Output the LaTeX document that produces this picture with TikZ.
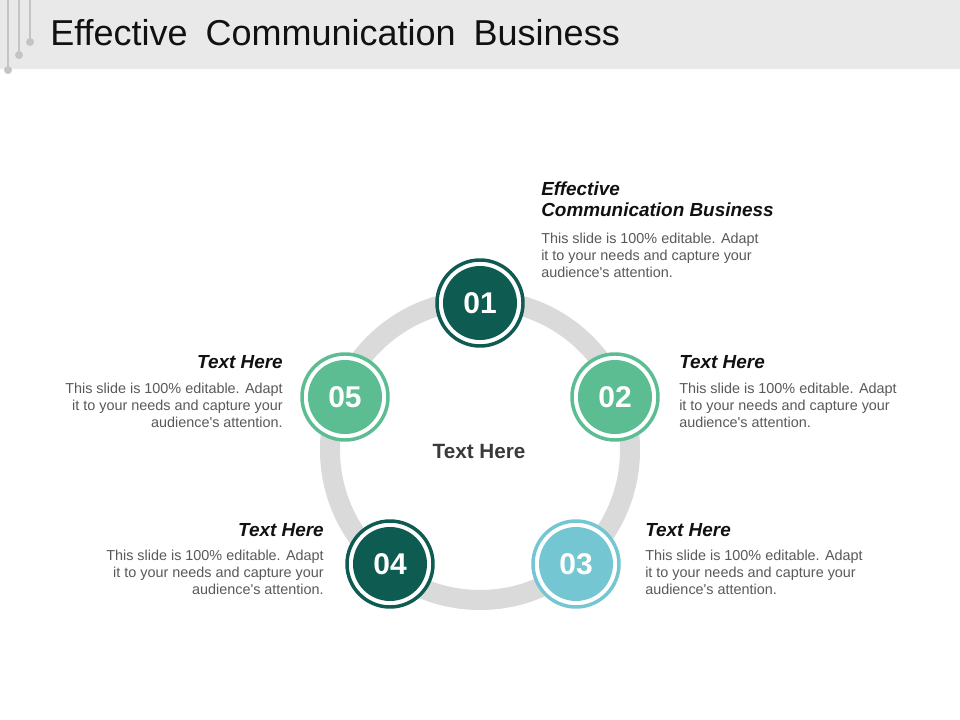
\documentclass[tikz,border=0pt]{standalone}
\usepackage{fontspec}
\setmainfont{Liberation Sans}[Ligatures=TeXOff]
\definecolor{titlebg}{HTML}{E9E9E9}
\definecolor{deco}{HTML}{C4C4C4}
\definecolor{ringgray}{HTML}{DADADA}
\definecolor{cdark}{HTML}{0D5B51}
\definecolor{cgreen}{HTML}{5BBD91}
\definecolor{cblue}{HTML}{74C7D2}
\definecolor{bodygray}{HTML}{595959}
\definecolor{headblack}{HTML}{111111}
\definecolor{centergray}{HTML}{3A3A3A}
\begin{document}
\begin{tikzpicture}[x=0.75pt,y=-0.75pt,
  titletext/.style={inner sep=0pt, font=\fontsize{27}{32}\selectfont, text=headblack},
  decoline/.style={draw=deco, line width=2pt},
  decodot/.style={circle, fill=deco, inner sep=0pt, minimum size=6pt},
  ringnode/.style={circle, fill=white, line width=2.6pt, minimum size=64.5pt, inner sep=0pt},
  numdisk/.style={circle, minimum size=55.5pt, inner sep=0pt, text=white, font=\fontsize{22.5}{26}\selectfont\bfseries},
  headtext/.style={inner sep=0pt, font=\fontsize{14.2}{16}\selectfont\bfseries\itshape, text=headblack},
  bodyL/.style={inner sep=0pt, align=left, font=\fontsize{10.8}{12.6}\selectfont, text=bodygray},
  bodyR/.style={inner sep=0pt, align=right, font=\fontsize{10.8}{12.6}\selectfont, text=bodygray},
  centertext/.style={inner sep=0pt, font=\fontsize{15.5}{18}\selectfont\bfseries, text=centergray}
]
\useasboundingbox (0,0) rectangle (960,720);
\fill[white] (0,0) rectangle (960,720);
\fill[titlebg] (0,0) rectangle (960,69);
% decorative lines
\coordinate (dtop1) at (8,0);
\coordinate (dtop2) at (19,0);
\coordinate (dtop3) at (30,0);
\node[decodot] (dd1) at (8,70) {};
\node[decodot] (dd2) at (19,55) {};
\node[decodot] (dd3) at (30,42) {};
\draw[decoline] (dtop1) -- (dd1.center);
\draw[decoline] (dtop2) -- (dd2.center);
\draw[decoline] (dtop3) -- (dd3.center);
\node[titletext, anchor=base west] (title) at (50,46) {Effective\hspace{13.5pt}Communication\hspace{13.5pt}Business};
% big ring
\coordinate (ringc) at (480,450);
\draw[ringgray, line width=15pt] (ringc) circle[radius=112.5pt];
\node[centertext] (center) at (479,451) {Text Here};
% step nodes
\node[ringnode, draw=cdark] (r1) at (480,303) {};
\node[numdisk, fill=cdark] (n1) at (480,303) {01};
\node[ringnode, draw=cgreen] (r2) at (615,397) {};
\node[numdisk, fill=cgreen] (n2) at (615,397) {02};
\node[ringnode, draw=cblue] (r3) at (576,564) {};
\node[numdisk, fill=cblue] (n3) at (576,564) {03};
\node[ringnode, draw=cdark] (r4) at (390,564) {};
\node[numdisk, fill=cdark] (n4) at (390,564) {04};
\node[ringnode, draw=cgreen] (r5) at (345,397) {};
\node[numdisk, fill=cgreen] (n5) at (345,397) {05};
% texts 01
\node[headtext, anchor=base west] (h1a) at (541,196) {Effective};
\node[headtext, anchor=base west] (h1b) at (541,217) {Communication Business};
\node[bodyL, anchor=base west] (b1) at (541,277.6) {This slide is 100\% editable. Adapt\\it to your needs and capture your\\audience's attention.};
% texts 02
\node[headtext, anchor=base west] (h2) at (679,368) {Text Here};
\node[bodyL, anchor=base west] (b2) at (679,427) {This slide is 100\% editable. Adapt\\it to your needs and capture your\\audience's attention.};
% texts 03
\node[headtext, anchor=base west] (h3) at (645,536) {Text Here};
\node[bodyL, anchor=base west] (b3) at (645,594) {This slide is 100\% editable. Adapt\\it to your needs and capture your\\audience's attention.};
% texts 04
\node[headtext, anchor=base east] (h4) at (324,536) {Text Here};
\node[bodyR, anchor=base east] (b4) at (324,594) {This slide is 100\% editable. Adapt\\it to your needs and capture your\\audience's attention.};
% texts 05
\node[headtext, anchor=base east] (h5) at (283,368) {Text Here};
\node[bodyR, anchor=base east] (b5) at (283,427) {This slide is 100\% editable. Adapt\\it to your needs and capture your\\audience's attention.};
\end{tikzpicture}
\end{document}
